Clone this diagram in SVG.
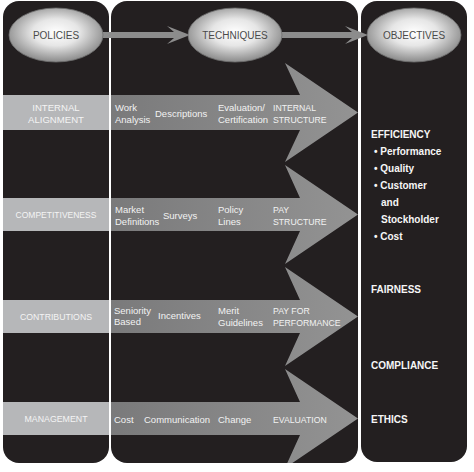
<svg xmlns="http://www.w3.org/2000/svg" width="474" height="472" viewBox="0 0 474 472">
<defs>
<style>
.panel{fill:#231f20}
.lbox{fill:#b6b7b9}
.band{fill:url(#bandGrad)}
.lt{font-family:"Liberation Sans",Arial,sans-serif;fill:#f4f4f4;text-anchor:middle}
.tt{font-family:"Liberation Sans",Arial,sans-serif;font-size:9.5px;fill:#f2f2f2}
.ct{font-family:"Liberation Sans",Arial,sans-serif;font-size:8.7px;fill:#f2f2f2}
.ot{font-family:"Liberation Sans",Arial,sans-serif;font-size:10px;font-weight:bold;fill:#f6f6f6}
.et{font-family:"Liberation Sans",Arial,sans-serif;font-size:10px;fill:#4a4a4a;text-anchor:middle}
.ell{fill:url(#ellGrad);stroke:#6e6e6e;stroke-width:0.8}
.conn{fill:#8c8c8c}
</style>
<radialGradient id="ellGrad" cx="0.5" cy="0.45" r="0.55">
<stop offset="0" stop-color="#ffffff"/>
<stop offset="0.45" stop-color="#e6e6e6"/>
<stop offset="1" stop-color="#8a8a8a"/>
</radialGradient>
<linearGradient id="bandGrad" gradientUnits="userSpaceOnUse" x1="111" y1="0" x2="358" y2="0">
<stop offset="0" stop-color="#7a7a7b"/>
<stop offset="1" stop-color="#939393"/>
</linearGradient>
<clipPath id="midClip"><rect x="111" y="1" width="247" height="462" rx="16"/></clipPath>
</defs>
<rect width="474" height="472" fill="#ffffff"/>

<g id="panels">
<rect class="panel" x="3" y="1" width="106" height="462" rx="16"/>
<rect class="panel" x="111" y="1" width="247" height="462" rx="16"/>
<rect class="panel" x="361" y="1" width="106" height="461" rx="16"/>
</g>

<g id="connectors">
<path class="conn" d="M100 32 H174 L167 26 L190 35 L167 44 L174 38 H100 Z"/>
<path class="conn" d="M278 32 H352 L345 26 L368 35 L345 44 L352 38 H278 Z"/>
</g>

<g id="policies">
<ellipse class="ell" cx="56" cy="35" rx="47" ry="27"/>
<text class="et" x="56" y="39">POLICIES</text>
</g>
<g id="techniques">
<ellipse class="ell" cx="235" cy="35" rx="47" ry="27"/>
<text class="et" x="235" y="39">TECHNIQUES</text>
</g>
<g id="objectives">
<ellipse class="ell" cx="414" cy="35" rx="47" ry="27"/>
<text class="et" x="414" y="39">OBJECTIVES</text>
</g>

<g id="row-internal-alignment">
<rect class="lbox" x="3" y="95" width="106" height="35"/>
<text class="lt" x="56" y="111" font-size="9.6">INTERNAL</text>
<text class="lt" x="56" y="123" font-size="9.6">ALIGNMENT</text>
<path class="band" clip-path="url(#midClip)" d="M111 95 H300 L285 63 L358 112.5 L285 162 L300 130 H111 Z"/>
<text class="tt" x="115" y="111">Work</text>
<text class="tt" x="115" y="123">Analysis</text>
<text class="tt" x="155" y="117">Descriptions</text>
<text class="tt" x="218" y="111">Evaluation/</text>
<text class="tt" x="218" y="123">Certification</text>
<text class="ct" x="273" y="111">INTERNAL</text>
<text class="ct" x="273" y="123">STRUCTURE</text>
</g>

<g id="row-competitiveness">
<rect class="lbox" x="3" y="198" width="106" height="33"/>
<text class="lt" x="56" y="218" font-size="8.5">COMPETITIVENESS</text>
<path class="band" clip-path="url(#midClip)" d="M111 198 H300 L285 165 L358 214.5 L285 264 L300 231 H111 Z"/>
<text class="tt" x="115" y="213">Market</text>
<text class="tt" x="115" y="224.5">Definitions</text>
<text class="tt" x="163" y="218.5">Surveys</text>
<text class="tt" x="218" y="213">Policy</text>
<text class="tt" x="218" y="224.5">Lines</text>
<text class="ct" x="273" y="213">PAY</text>
<text class="ct" x="273" y="224.5">STRUCTURE</text>
</g>

<g id="row-contributions">
<rect class="lbox" x="3" y="300" width="106" height="33"/>
<text class="lt" x="56" y="320" font-size="8.7">CONTRIBUTIONS</text>
<path class="band" clip-path="url(#midClip)" d="M111 300 H300 L285 267 L358 316.5 L285 366 L300 333 H111 Z"/>
<text class="tt" x="114" y="314">Seniority</text>
<text class="tt" x="114" y="325">Based</text>
<text class="tt" x="158" y="319">Incentives</text>
<text class="tt" x="218" y="314">Merit</text>
<text class="tt" x="218" y="325.5">Guidelines</text>
<text class="ct" x="273" y="314">PAY FOR</text>
<text class="ct" x="273" y="325.5">PERFORMANCE</text>
</g>

<g id="row-management">
<rect class="lbox" x="3" y="402" width="106" height="33"/>
<text class="lt" x="56" y="422" font-size="8.8">MANAGEMENT</text>
<path class="band" clip-path="url(#midClip)" d="M111 402 H300 L285 369 L358 418.5 L285 468 L300 435 H111 Z"/>
<text class="tt" x="114" y="423">Cost</text>
<text class="tt" x="144" y="423">Communication</text>
<text class="tt" x="218" y="423">Change</text>
<text class="ct" x="273" y="423">EVALUATION</text>
</g>

<g id="objective-list">
<text class="ot" x="371" y="138">EFFICIENCY</text>
<text class="ot" x="374" y="155">• Performance</text>
<text class="ot" x="374" y="172">• Quality</text>
<text class="ot" x="374" y="189">• Customer</text>
<text class="ot" x="381" y="206">and</text>
<text class="ot" x="381" y="223">Stockholder</text>
<text class="ot" x="374" y="240">• Cost</text>
<text class="ot" x="371" y="293">FAIRNESS</text>
<text class="ot" x="371" y="369">COMPLIANCE</text>
<text class="ot" x="371" y="423">ETHICS</text>
</g>
</svg>
